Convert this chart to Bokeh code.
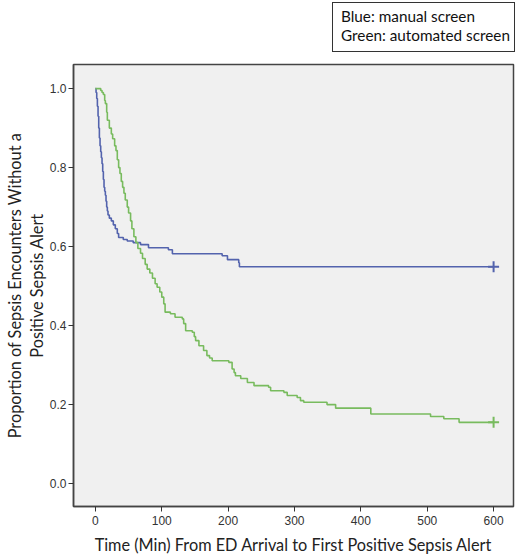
from bokeh.plotting import figure
from bokeh.layouts import column
from bokeh.models import Range1d, FixedTicker, Div, CustomJSTickFormatter, LinearAxis
from bokeh.embed import file_html
from bokeh.resources import INLINE

# Manual screen (blue) Kaplan-Meier steps: event times (min) and survival after each step
blue_t = [0, 1, 2, 3, 4, 5, 6, 7, 8, 9, 10, 11, 12, 13, 14, 15, 16, 17, 18, 19,
          21, 24, 27, 30, 33, 35, 42, 48, 57, 68, 80, 110, 116, 191, 199, 216, 217]
blue_s = [1.0, 0.99, 0.975, 0.955, 0.93, 0.90, 0.875, 0.855, 0.84, 0.825, 0.81,
          0.79, 0.77, 0.75, 0.74, 0.73, 0.715, 0.70, 0.69, 0.68, 0.672, 0.665,
          0.655, 0.645, 0.633, 0.623, 0.618, 0.614, 0.610, 0.605, 0.597, 0.592,
          0.582, 0.577, 0.567, 0.559, 0.549]
blue_end = 600

# Automated screen (green)
green_t = [0, 8, 10, 12, 14, 15, 17, 18, 21, 24, 26, 29, 31, 33, 35, 37, 39, 41,
           43, 45, 48, 50, 53, 55, 58, 61, 64, 68, 71, 75, 78, 82, 86, 90, 93, 97,
           100, 103, 105, 113, 120, 131, 133, 136, 146, 149, 151, 156, 163, 168,
           172, 176, 201, 206, 209, 211, 219, 229, 239, 261, 264, 284, 289, 304,
           309, 314, 349, 362, 415, 505, 525, 548]
green_s = [1.0, 0.995, 0.99, 0.985, 0.97, 0.962, 0.94, 0.92, 0.90, 0.885, 0.873,
           0.855, 0.843, 0.82, 0.80, 0.785, 0.765, 0.75, 0.735, 0.718, 0.70, 0.685,
           0.665, 0.645, 0.625, 0.61, 0.595, 0.583, 0.57, 0.555, 0.543, 0.533,
           0.52, 0.506, 0.497, 0.485, 0.472, 0.455, 0.434, 0.430, 0.421, 0.417,
           0.405, 0.387, 0.383, 0.372, 0.362, 0.349, 0.337, 0.324, 0.318, 0.311,
           0.307, 0.290, 0.281, 0.273, 0.266, 0.256, 0.248, 0.244, 0.235, 0.231,
           0.223, 0.218, 0.210, 0.206, 0.200, 0.191, 0.176, 0.170, 0.164, 0.155]
green_end = 600

x_ticks = [0, 100, 200, 300, 400, 500, 600]
y_ticks = [0.0, 0.2, 0.4, 0.6, 0.8, 1.0]
x_title = "Time (Min) From ED Arrival to First Positive Sepsis Alert"
y_title_lines = ["Proportion of Sepsis Encounters Without a", "Positive Sepsis Alert"]
legend_lines = ["Blue: manual screen", "Green: automated screen"]

BLUE = "#5363ad"
GREEN = "#78bb5e"
LABEL_FONT = "Lato"
LABEL_SIZE = "16.3px"

p = figure(frame_width=440, frame_height=442, output_backend="svg",
           toolbar_location=None,
           x_range=Range1d(-33, 630), y_range=Range1d(-0.058, 1.061),
           min_border_left=73, min_border_right=2, min_border_top=8,
           min_border_bottom=40, margin=0)
p.background_fill_color = "#f0f0f0"
p.border_fill_color = "white"
p.outline_line_color = "#444444"
p.outline_line_width = 1.5
p.grid.visible = False

for ax, ticks in ((p.xaxis, x_ticks), (p.yaxis, y_ticks)):
    ax.ticker = FixedTicker(ticks=ticks)
    ax.minor_tick_line_color = None
    ax.major_tick_in = 0
    ax.major_tick_out = 5
    ax.major_tick_line_color = "#333333"
    ax.axis_line_color = "#444444"
    ax.axis_line_width = 1.5
    ax.major_label_text_font = "Liberation Sans"
    ax.major_label_text_font_size = "12px"
    ax.major_label_text_color = "#333333"
    ax.axis_label_text_font = LABEL_FONT
    ax.axis_label_text_font_size = LABEL_SIZE
    ax.axis_label_text_font_style = "normal"
    ax.axis_label_text_color = "#222222"

p.xaxis.axis_label = x_title
p.yaxis.axis_label = y_title_lines[1]
p.yaxis.axis_label_text_line_height = 1.0
p.yaxis.formatter = CustomJSTickFormatter(code="return tick.toFixed(1);")
p.yaxis.major_label_standoff = 2
p.xaxis.major_label_standoff = 4
p.yaxis.axis_label_standoff = 1
p.xaxis.axis_label_standoff = 7

# outer line of the two-line y title, as a label-only axis
outer = LinearAxis(axis_label=y_title_lines[0], ticker=FixedTicker(ticks=[]),
                   axis_line_color=None, major_tick_line_color=None,
                   minor_tick_line_color=None, major_label_text_color=None,
                   axis_label_text_font=LABEL_FONT, axis_label_text_font_size=LABEL_SIZE,
                   axis_label_text_font_style="normal", axis_label_text_color="#222222",
                   axis_label_text_line_height=1.0,
                   axis_label_standoff=0, major_label_standoff=0,
                   major_tick_out=0, major_tick_in=0)
p.add_layout(outer, "left")

p.step(blue_t + [blue_end], blue_s + [blue_s[-1]], mode="after",
       line_color=BLUE, line_width=1.6)
p.step(green_t + [green_end], green_s + [green_s[-1]], mode="after",
       line_color=GREEN, line_width=1.6)
p.scatter([blue_end], [blue_s[-1]], marker="cross", size=11, line_color=BLUE, line_width=2)
p.scatter([green_end], [green_s[-1]], marker="cross", size=11, line_color=GREEN, line_width=2)

box_html = (
    '<div style="margin-left:332px; margin-top:2px; width:183px; height:50px; '
    'box-sizing:border-box; border:1px solid #333; background:white; '
    'padding:4px 0 0 8px; font-family:Lato; font-size:15.3px; line-height:19px; '
    'color:#111; white-space:nowrap;">'
    + "<br>".join(legend_lines) + "</div>"
)
box = Div(text=box_html, width=516, height=56, margin=0)

layout = column(box, p, spacing=0, margin=0)

open("out.html", "w").write(file_html(layout, INLINE))
